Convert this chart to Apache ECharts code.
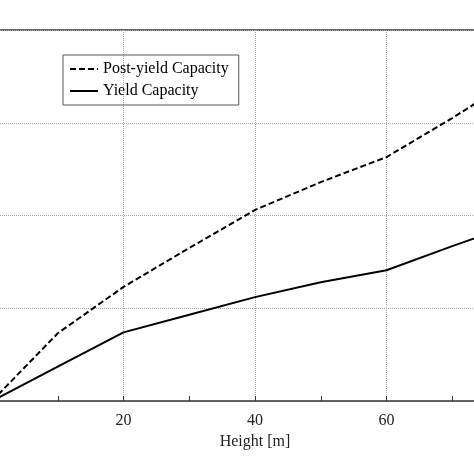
<!DOCTYPE html>
<html><head><meta charset="utf-8">
<script src="https://cdn.jsdelivr.net/npm/echarts@6/dist/echarts.min.js"></script>
<style>html,body{margin:0;padding:0;background:#fff}#c{width:474px;height:474px}</style>
</head><body><div id="c"></div>
<script>
const heights = [0, 10, 20, 30, 40, 50, 60, 70, 80];
const postYield = [0, 0.73, 1.23, 1.65, 2.06, 2.36, 2.63, 3.05, 3.5];
const yieldCap = [0, 0.37, 0.74, 0.93, 1.12, 1.28, 1.41, 1.67, 1.92];
const xTicks = [0, 20, 40, 60, 80];
const ch = echarts.init(document.getElementById('c'));
const font = 'Liberation Serif';
ch.setOption({
  animation: false,
  grid: {left: -8, top: 30, right: -44, bottom: 73, containLabel: false, outerBoundsMode: 'none'},
  legend: {
    left: 63, top: 55, orient: 'vertical', itemGap: 6, itemWidth: 28, itemHeight: 10,
    borderColor: '#555', borderWidth: 1, padding: [6, 10, 6, 6],
    itemStyle: {opacity: 0},
    textStyle: {fontFamily: font, fontSize: 16, color: '#000'},
    data: ['Post-yield Capacity', 'Yield Capacity']
  },
  xAxis: {
    type: 'value', min: 0, max: 80, interval: 20,
    name: 'Height [m]', nameLocation: 'middle', nameGap: 32,
    nameTextStyle: {fontFamily: font, fontSize: 16, color: '#222'},
    axisLine: {lineStyle: {color: '#333', width: 1.5}},
    axisTick: {inside: true, length: 5, lineStyle: {color: '#333'}},
    minorTick: {show: true, splitNumber: 2, length: 5},
    axisLabel: {fontFamily: font, fontSize: 16, color: '#222', margin: 12,
      formatter: v => xTicks.includes(v) && v !== 0 ? String(v) : ''},
    splitLine: {show: true, lineStyle: {type: 'dotted', color: '#aaa'}},
  },
  yAxis: {
    type: 'value', min: 0, max: 4, interval: 1,
    axisLine: {show: false}, axisTick: {show: false}, axisLabel: {show: false},
    splitLine: {show: true, lineStyle: {type: 'dotted', color: '#aaa'}}
  },
  graphic: [{type: 'line', shape: {x1: 0, y1: 30, x2: 474, y2: 30}, style: {stroke: '#333', lineWidth: 1.5}}],
  series: [
    {name: 'Post-yield Capacity', type: 'line', symbol: 'none', data: heights.map((h, i) => [h, postYield[i]]),
     lineStyle: {color: '#000', width: 2, type: [6, 3]}, itemStyle: {color: '#000'}},
    {name: 'Yield Capacity', type: 'line', symbol: 'none', data: heights.map((h, i) => [h, yieldCap[i]]),
     lineStyle: {color: '#000', width: 2}, itemStyle: {color: '#000'}}
  ]
});
</script></body></html>
